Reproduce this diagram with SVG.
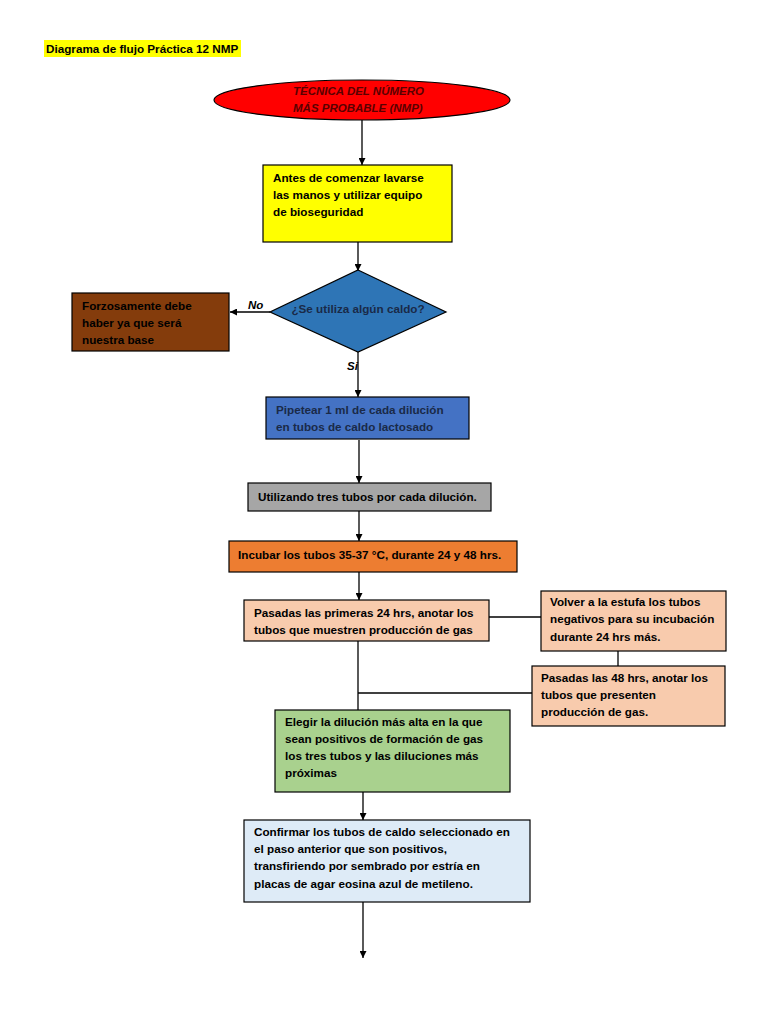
<svg xmlns="http://www.w3.org/2000/svg" width="768" height="1024" viewBox="0 0 768 1024">
<defs>
<marker id="arr" viewBox="0 0 10 10" refX="10" refY="5" markerWidth="7" markerHeight="7" orient="auto" markerUnits="userSpaceOnUse">
<path d="M0,0 L10,5 L0,10 z" fill="#000"/>
</marker>
<style>
.t{font-family:"Liberation Sans",Arial,sans-serif;font-weight:bold;font-size:11.7px;fill:#000}
.b{stroke:#000;stroke-width:1.2}
.c{stroke:#000;stroke-width:1.3;fill:none}
.ca{stroke:#000;stroke-width:1.3;fill:none;marker-end:url(#arr)}
.lbl{font-family:"Liberation Sans",Arial,sans-serif;font-weight:bold;font-style:italic;font-size:11.5px;fill:#000}
</style>
</defs>
<rect width="768" height="1024" fill="#fff"/>
<g id="title">
<rect x="44" y="40" width="197" height="17" fill="#ffff00"/>
<text class="t" x="46" y="53">Diagrama de flujo Práctica 12 NMP</text>
</g>
<g id="connectors">
<line class="ca" x1="362" y1="120" x2="362" y2="165"/>
<line class="c" x1="358" y1="242" x2="358" y2="262"/>
<line class="ca" x1="358" y1="262" x2="358" y2="271"/>
<line class="ca" x1="270" y1="312" x2="230" y2="312"/>
<line class="ca" x1="358" y1="352" x2="358" y2="397"/>
<line class="ca" x1="359" y1="440" x2="359" y2="483"/>
<line class="ca" x1="359" y1="511" x2="359" y2="541"/>
<line class="ca" x1="359" y1="572" x2="359" y2="600"/>
<line class="c" x1="489" y1="617" x2="541" y2="617"/>
<line class="c" x1="618" y1="651" x2="618" y2="666"/>
<line class="c" x1="358" y1="641" x2="358" y2="710"/>
<line class="c" x1="358" y1="693" x2="532" y2="693"/>
<line class="ca" x1="363" y1="792" x2="363" y2="820"/>
<line class="ca" x1="363" y1="902" x2="363" y2="958"/>
<text class="lbl" x="248" y="309">No</text>
<text class="lbl" x="347" y="370">Si</text>
</g>
<g id="start">
<ellipse cx="362" cy="100" rx="148" ry="20" fill="#ff0000" class="b"/>
<text class="lbl" x="293" y="95" style="fill:#5a0000">TÉCNICA DEL NÚMERO</text>
<text class="lbl" x="293" y="112" style="fill:#5a0000">MÁS PROBABLE (NMP)</text>
</g>
<g id="n1">
<rect x="263" y="165" width="189" height="77" fill="#ffff00" class="b"/>
<text class="t" x="273" y="182">Antes de comenzar lavarse</text>
<text class="t" x="273" y="199">las manos y utilizar equipo</text>
<text class="t" x="273" y="216">de bioseguridad</text>
</g>
<g id="decision">
<polygon points="358,270 446,312 358,352 270,312" fill="#2e75b6" class="b"/>
<text class="t" x="358" y="313" text-anchor="middle" style="fill:#1a2a48">¿Se utiliza algún caldo?</text>
</g>
<g id="no-box">
<rect x="72" y="293" width="157" height="58" fill="#843c0c" class="b"/>
<text class="t" x="82" y="310">Forzosamente debe</text>
<text class="t" x="82" y="327">haber ya que será</text>
<text class="t" x="82" y="344">nuestra base</text>
</g>
<g id="n2">
<rect x="266" y="397" width="203" height="42" fill="#4472c4" class="b"/>
<text class="t" x="276" y="414" style="fill:#1a2a48">Pipetear 1 ml de cada dilución</text>
<text class="t" x="276" y="431" style="fill:#1a2a48">en tubos de caldo lactosado</text>
</g>
<g id="n3">
<rect x="248" y="483" width="243" height="28" fill="#a6a6a6" class="b"/>
<text class="t" x="258" y="501">Utilizando tres tubos por cada dilución.</text>
</g>
<g id="n4">
<rect x="229" y="541" width="288" height="31" fill="#ed7d31" class="b"/>
<text class="t" x="238" y="559">Incubar los tubos 35-37 °C, durante 24 y 48 hrs.</text>
</g>
<g id="n5">
<rect x="244" y="600" width="245" height="41" fill="#f8cbad" class="b"/>
<text class="t" x="254" y="617">Pasadas las primeras 24 hrs, anotar los</text>
<text class="t" x="254" y="634">tubos que muestren producción de gas</text>
</g>
<g id="n6">
<rect x="541" y="591" width="185" height="60" fill="#f8cbad" class="b"/>
<text class="t" x="550" y="606">Volver a la estufa los tubos</text>
<text class="t" x="550" y="623">negativos para su incubación</text>
<text class="t" x="550" y="641">durante 24 hrs más.</text>
</g>
<g id="n7">
<rect x="532" y="666" width="193" height="60" fill="#f8cbad" class="b"/>
<text class="t" x="541" y="682">Pasadas las 48 hrs, anotar los</text>
<text class="t" x="541" y="699">tubos que presenten</text>
<text class="t" x="541" y="716">producción de gas.</text>
</g>
<g id="n8">
<rect x="275" y="710" width="235" height="82" fill="#a9d18e" class="b"/>
<text class="t" x="285" y="726">Elegir la dilución más alta en la que</text>
<text class="t" x="285" y="743">sean positivos de formación de gas</text>
<text class="t" x="285" y="760">los tres tubos y las diluciones más</text>
<text class="t" x="285" y="777">próximas</text>
</g>
<g id="n9">
<rect x="244" y="820" width="286" height="82" fill="#deebf7" class="b"/>
<text class="t" x="254" y="836">Confirmar los tubos de caldo seleccionado en</text>
<text class="t" x="254" y="853">el paso anterior que son positivos,</text>
<text class="t" x="254" y="870">transfiriendo por sembrado por estría en</text>
<text class="t" x="254" y="888">placas de agar eosina azul de metileno.</text>
</g>
</svg>
